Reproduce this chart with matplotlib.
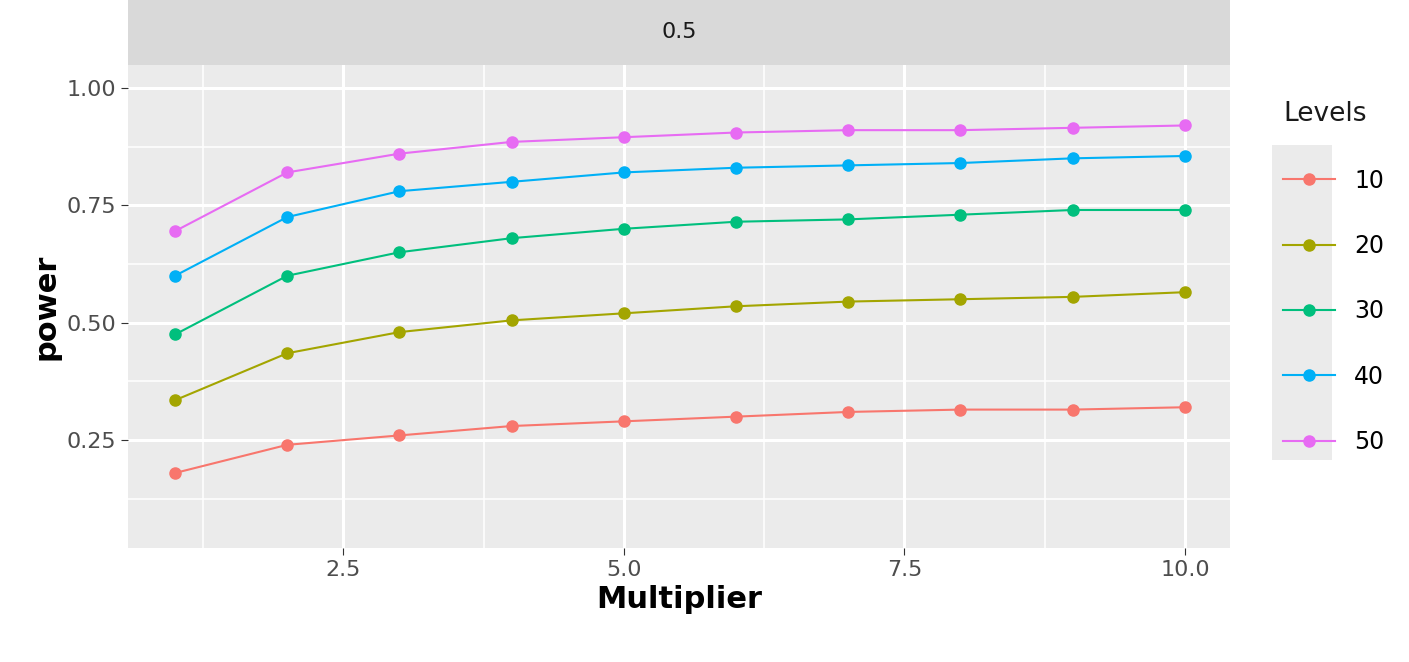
import matplotlib.pyplot as plt
import matplotlib.patches as mpatches
import numpy as np

multiplier = [1, 2, 3, 4, 5, 6, 7, 8, 9, 10]
levels = ['10', '20', '30', '40', '50']
power = {
    '10': [0.18, 0.24, 0.26, 0.28, 0.29, 0.30, 0.31, 0.315, 0.315, 0.32],
    '20': [0.335, 0.435, 0.48, 0.505, 0.52, 0.535, 0.545, 0.55, 0.555, 0.565],
    '30': [0.475, 0.60, 0.65, 0.68, 0.70, 0.715, 0.72, 0.73, 0.74, 0.74],
    '40': [0.60, 0.725, 0.78, 0.80, 0.82, 0.83, 0.835, 0.84, 0.85, 0.855],
    '50': [0.695, 0.82, 0.86, 0.885, 0.895, 0.905, 0.91, 0.91, 0.915, 0.92],
}
colors = ['#F8766D', '#A3A500', '#00BF7D', '#00B0F6', '#E76BF3']
facet = '0.5'

fig = plt.figure(figsize=(14.09, 6.62), dpi=100)
ax = fig.add_axes([0.0908, 0.172, 0.782, 0.730])
ax.set_facecolor('#EBEBEB')

for lv, c in zip(levels, colors):
    ax.plot(multiplier, power[lv], color=c, lw=1.5, marker='o', ms=8, label=lv)

ax.set_xlim(0.58, 10.4)
ax.set_ylim(0.02, 1.049)
ax.set_xticks([2.5, 5.0, 7.5, 10.0])
ax.set_xticklabels(['2.5', '5.0', '7.5', '10.0'])
ax.set_yticks([0.25, 0.5, 0.75, 1.0])
ax.set_yticklabels(['0.25', '0.50', '0.75', '1.00'])
ax.set_xticks([1.25, 3.75, 6.25, 8.75], minor=True)
ax.set_yticks([0.125, 0.375, 0.625, 0.875], minor=True)
ax.grid(True, which='major', color='white', lw=2.2)
ax.grid(True, which='minor', color='white', lw=1.1)
ax.set_axisbelow(True)
for s in ax.spines.values():
    s.set_visible(False)
ax.tick_params(which='major', length=5, color='#333333', labelsize=16, labelcolor='#4D4D4D')
ax.tick_params(which='minor', length=0)
ax.set_xlabel('Multiplier', fontsize=22, fontweight='bold')
ax.set_ylabel('power', fontsize=22, fontweight='bold')

# facet strip
strip = fig.add_axes([0.0908, 0.902, 0.782, 0.098])
strip.set_facecolor('#D9D9D9')
strip.set_xticks([])
strip.set_yticks([])
for s in strip.spines.values():
    s.set_visible(False)
strip.text(0.5, 0.5, facet, ha='center', va='center', fontsize=16, color='#1A1A1A')

# legend
fig.patches.append(mpatches.Rectangle((1272 / 1409, 1 - 460 / 662), 60 / 1409, 315 / 662,
                                      transform=fig.transFigure, facecolor='#EBEBEB', zorder=0))
leg = fig.legend(loc='upper left', bbox_to_anchor=(1262 / 1409, 1 - 80 / 662), frameon=False,
                 title='Levels', fontsize=17, title_fontsize=19, handlelength=2.2,
                 labelspacing=1.75, alignment='left')
plt.setp(leg.get_title(), color='#1A1A1A')

fig.savefig('out.png', dpi=100)
